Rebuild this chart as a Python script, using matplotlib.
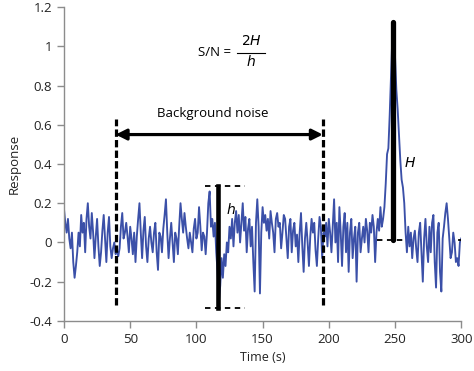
import numpy as np
import matplotlib.pyplot as plt
from matplotlib.ticker import FuncFormatter

plt.rcParams['font.family'] = ['Open Sans', 'DejaVu Sans']
plt.rcParams['axes.unicode_minus'] = False

# time axis, one reading per second
time_s = np.arange(0, 301)

# detector response
response = [
    0.17, 0.10, 0.05, 0.12, 0.02, -0.03, 0.05, -0.10, -0.18, -0.12,
    -0.05, 0.05, -0.02, 0.14, 0.05, 0.10, -0.05, 0.12, 0.20, 0.08,
    0.02, 0.15, 0.05, -0.08, 0.03, 0.12, -0.02, -0.12, -0.05, 0.06,
    0.14, 0.02, -0.10, 0.05, 0.13, -0.02, -0.08, -0.03, 0.00, -0.06,
    -0.04, -0.07, -0.03, 0.08, 0.15, 0.02, 0.05, 0.10, 0.03, -0.05,
    0.08, 0.02, -0.06, 0.05, -0.10, 0.03, 0.12, 0.20, 0.05, -0.08,
    0.06, 0.13, -0.02, -0.10, 0.02, 0.08, 0.00, -0.05, 0.05, 0.10,
    -0.05, -0.14, 0.05, 0.03, -0.05, 0.07, 0.14, 0.22, 0.05, -0.08,
    0.02, 0.10, 0.00, -0.10, 0.05, 0.02, -0.06, 0.08, 0.20, 0.12,
    0.05, 0.15, 0.08, 0.02, -0.03, 0.05, 0.00, -0.05, 0.07, 0.12,
    0.02, 0.05, 0.18, 0.08, -0.04, 0.05, 0.03, -0.06, 0.05, 0.20,
    0.26, 0.08, 0.12, 0.03, 0.10, -0.05, -0.15, -0.30, -0.22, -0.08,
    -0.18, -0.06, -0.12, 0.00, -0.05, 0.08, 0.02, 0.12, -0.02, 0.10,
    0.16, 0.05, 0.14, 0.00, 0.10, 0.20, 0.06, 0.13, -0.05, 0.07,
    0.12, -0.02, 0.08, -0.10, -0.25, 0.10, 0.22, 0.08, -0.26, 0.05,
    0.18, 0.10, 0.14, 0.06, 0.12, 0.02, 0.16, 0.10, 0.05, -0.05,
    0.12, 0.15, 0.08, 0.10, -0.03, 0.05, 0.14, 0.12, 0.02, -0.08,
    0.08, 0.12, -0.05, 0.06, 0.10, -0.02, 0.04, -0.10, 0.05, 0.15,
    -0.02, -0.15, 0.02, 0.10, 0.00, -0.12, 0.03, 0.12, 0.05, 0.10,
    -0.04, -0.12, 0.02, 0.13, 0.08, -0.08, 0.05, 0.03, 0.10, -0.02,
    0.12, 0.05, -0.05, 0.08, 0.22, 0.00, 0.10, -0.10, 0.18, 0.05,
    -0.12, 0.08, 0.15, -0.05, 0.10, -0.15, 0.05, 0.12, -0.08, 0.02,
    0.08, -0.20, 0.05, 0.10, -0.05, 0.02, 0.08, 0.00, 0.12, 0.06,
    -0.05, 0.10, 0.05, 0.14, 0.08, -0.10, 0.05, 0.12, 0.06, 0.18,
    0.08, 0.12, 0.18, 0.30, 0.45, 0.48, 0.65, 0.85, 1.05, 1.12,
    0.95, 0.78, 0.68, 0.55, 0.42, 0.32, 0.28, 0.20, 0.05, -0.05,
    0.08, -0.02, 0.05, -0.08, 0.02, 0.06, -0.03, -0.10, 0.05, 0.10,
    -0.05, -0.20, 0.02, 0.12, -0.02, -0.10, 0.08, -0.05, 0.10, 0.14,
    -0.10, -0.23, 0.05, 0.10, -0.15, -0.25, 0.02, 0.08, 0.15, 0.20,
    0.12, 0.02, -0.08, -0.05, 0.05, 0.00, -0.10, -0.08, -0.12, 0.00,
    0.02,
]

# annotation values
noise_start, noise_end = 39, 195.5
noise_top, noise_bottom = 0.29, -0.335
h_time = 116.5
peak_time, peak_top, peak_base = 248.7, 1.125, 0.01

fig = plt.figure(figsize=(4.74, 3.71), dpi=100)
ax = fig.add_axes([0.135, 0.135, 0.838, 0.846])

ax.plot(time_s, response, color='#3b50a8', lw=1.35, zorder=2)

# background noise window
for t in (noise_start, noise_end):
    ax.plot([t, t], [-0.32, 0.63], color='black', lw=2.3,
            ls=(0, (2.3, 1.0)), zorder=3)
ax.annotate('', xy=(noise_start, 0.55), xytext=(noise_end, 0.55),
            arrowprops=dict(arrowstyle='<|-|>', color='black', lw=2.3,
                            mutation_scale=16, shrinkA=0, shrinkB=0))
ax.text(112, 0.655, 'Background noise', ha='center', va='center', fontsize=9.5)

# h: peak-to-peak noise
ax.plot([h_time, h_time], [noise_bottom, noise_top], color='black', lw=3.3,
        zorder=4)
for v in (noise_top, noise_bottom):
    ax.plot([106.5, 137], [v, v], color='black', lw=1.3,
            ls=(0, (3, 2.5)), zorder=4)
ax.text(122, 0.165, '$h$', fontsize=10, ha='left', va='center')

# H: signal height
ax.plot([peak_time, peak_time], [peak_base, peak_top], color='black', lw=3.8,
        solid_capstyle='round', zorder=4)
ax.plot([236.5, 258], [peak_base, peak_base], color='black', lw=1.3,
        ls=(0, (3, 2.5)), zorder=4)
ax.plot([298, 300], [peak_base, peak_base], color='black', lw=1.3, zorder=4)
ax.text(256.5, 0.405, '$H$', fontsize=10, ha='left', va='center')

# S/N formula
ax.text(113.5, 0.967, 'S/N =', ha='center', va='center', fontsize=9.5)
ax.plot([131, 152], [0.967, 0.967], color='black', lw=0.8)
ax.text(141.5, 1.025, '$2H$', ha='center', va='center', fontsize=10)
ax.text(141.5, 0.915, '$h$', ha='center', va='center', fontsize=10)

ax.set_xlim(0, 300)
ax.set_ylim(-0.4, 1.2)
ax.set_xticks(np.arange(0, 301, 50))
ax.set_yticks(np.arange(-0.4, 1.21, 0.2))
ax.yaxis.set_major_formatter(FuncFormatter(lambda v, p: '%g' % round(v, 1)))
ax.spines['top'].set_visible(False)
ax.spines['right'].set_visible(False)
for s in ('left', 'bottom'):
    ax.spines[s].set_color('#8c8c8c')
    ax.spines[s].set_linewidth(1.0)
ax.tick_params(colors='#8c8c8c', labelcolor='#222222', labelsize=9.5,
               length=5, width=1.0)
ax.set_xlabel('Time (s)', fontsize=9, color='#222222', labelpad=4)
ax.set_ylabel('Response', fontsize=9.5, color='#222222', labelpad=6)

fig.savefig('out.png', dpi=100)
